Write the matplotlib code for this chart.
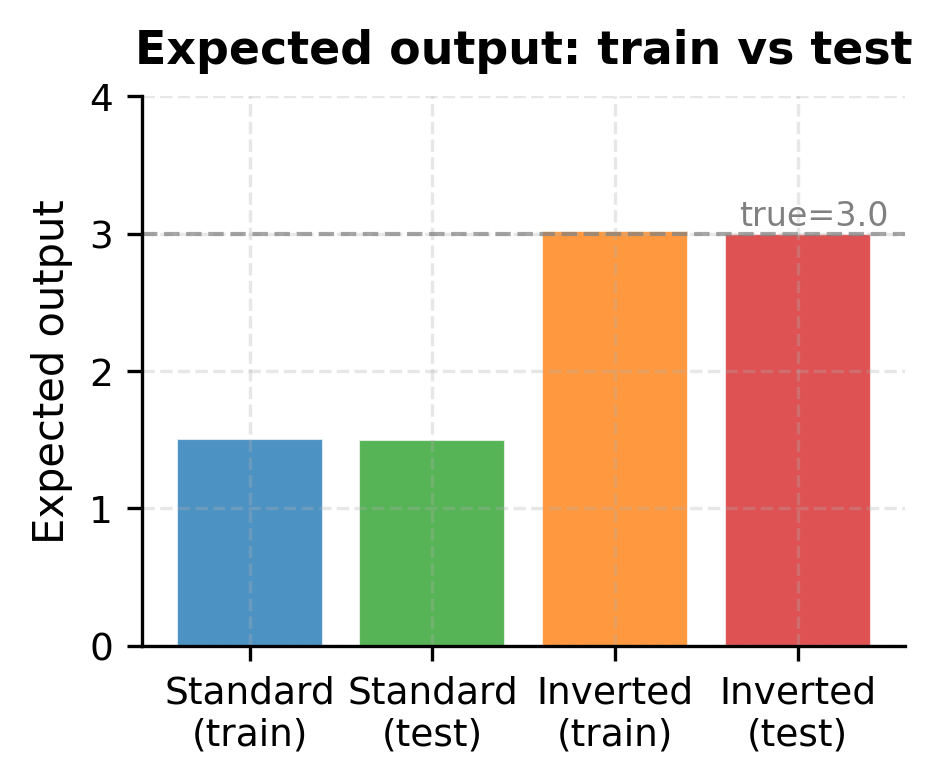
import matplotlib.pyplot as plt

labels = ["Standard\n(train)", "Standard\n(test)", "Inverted\n(train)", "Inverted\n(test)"]
values = [1.502, 1.495, 3.018, 2.996]
colors = ["#1f77b4", "#2ca02c", "#ff7f0e", "#d62728"]
true_value = 3.0

fig, ax = plt.subplots(figsize=(3.14, 2.613), dpi=300)
x = range(len(labels))
ax.bar(x, values, color=colors, alpha=0.8, edgecolor="white", linewidth=0.5)
ax.axhline(true_value, color="gray", linestyle="--", linewidth=1, alpha=0.7)
ax.text(3.5, true_value + 0.01, f"true={true_value}", color="gray", fontsize=8,
        ha="right", va="bottom")
ax.set_xticks(list(x))
ax.set_xticklabels(labels, fontsize=9)
ax.set_ylim(0, 4)
ax.set_yticks([0, 1, 2, 3, 4])
ax.tick_params(axis="y", labelsize=9)
ax.set_ylabel("Expected output", fontsize=10)
ax.set_title("Expected output: train vs test", fontsize=11, fontweight="bold", pad=8)
ax.grid(True, linestyle="--", alpha=0.3, linewidth=0.8)
ax.spines["top"].set_visible(False)
ax.spines["right"].set_visible(False)
fig.subplots_adjust(left=0.151, right=0.961, top=0.876, bottom=0.175)
fig.savefig("out.png", dpi=300)
